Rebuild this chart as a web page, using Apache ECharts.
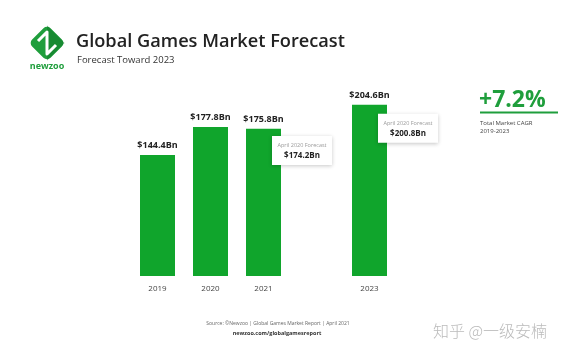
<!DOCTYPE html>
<html>
<head>
<meta charset="utf-8">
<script src="https://cdn.jsdelivr.net/npm/echarts@6/dist/echarts.min.js"></script>
<style>html,body{margin:0;padding:0;background:#fff;}#c{width:573px;height:361px;}</style>
</head>
<body>
<div id="c"></div>
<script>
// Data
var categories = ['2019', '2020', '2021', '', '2023'];
var revenue = [144.4, 177.8, 175.8, null, 204.6];
var april2020Forecast = [null, null, 174.2, null, 200.8];
var forecastLabel = 'April 2020 Forecast';
var cagrText = '+7.2%';
var cagrCaption = ['Total Market CAGR', '2019-2023'];
var titleText = 'Global Games Market Forecast';
var subtitleText = 'Forecast Toward 2023';
var sourceText = 'Source: \u00A9Newzoo | Global Games Market Report | April 2021';
var urlText = 'newzoo.com/globalgamesreport';
var watermark = '\u77E5\u4E4E @\u4E00\u7EA7\u5B89\u6960';

var GREEN = '#10a52c';
var FONT = '"Open Sans", "DejaVu Sans", sans-serif';
var fmt = function (v) { return '$' + v.toFixed(1) + 'Bn'; };

var chart = echarts.init(document.getElementById('c'), null, {renderer: 'canvas'});
chart.setOption({
  backgroundColor: '#fff',
  animation: false,
  grid: {left: 131, right: 177, top: 75, bottom: 85},
  xAxis: {
    type: 'category',
    data: categories,
    axisLine: {show: false},
    axisTick: {show: false},
    axisLabel: {color: '#444', fontSize: 8, margin: 9, fontFamily: FONT}
  },
  yAxis: {type: 'value', min: 0, max: 240, show: false, splitLine: {show: false}},
  series: [
    {
      type: 'bar',
      data: revenue,
      barWidth: 35,
      itemStyle: {color: GREEN},
      label: {
        show: true, position: 'top', distance: 5,
        formatter: function (p) { return fmt(p.value); },
        fontSize: 9, fontWeight: 'bold', color: '#222', fontFamily: FONT
      }
    },
    {
      type: 'bar',
      data: april2020Forecast,
      barWidth: 35,
      barGap: '-100%',
      itemStyle: {color: 'rgba(0,0,0,0)'},
      z: 5,
      label: {
        show: true,
        position: [26, 6],
        formatter: function (p) { return '{a|' + forecastLabel + '}\n{b|' + fmt(p.value) + '}'; },
        backgroundColor: '#fff',
        shadowColor: 'rgba(0,0,0,0.22)',
        shadowBlur: 4,
        shadowOffsetY: 1,
        padding: [5, 6, 4, 6],
        width: 48,
        align: 'left',
        rich: {
          a: {fontSize: 5.5, color: '#9a9a9a', lineHeight: 9, align: 'center', width: 48, fontFamily: FONT},
          b: {fontSize: 8, fontWeight: 'bold', color: '#222', lineHeight: 11, align: 'center', width: 48, fontFamily: FONT}
        }
      }
    }
  ],
  graphic: [
    // Logo
    {type: 'rect', shape: {x: -13, y: -13, width: 26, height: 26, r: 5}, x: 47, y: 43, rotation: Math.PI / 4,
      style: {fill: '#1f9e3c'}},
    {type: 'polygon', shape: {points: [[47, 25.5], [64.5, 43], [47, 60.5]]}, style: {fill: '#137a2a', opacity: 0.55}},
    {type: 'polyline', shape: {points: [[38, 41], [47, 32], [47, 54], [56, 45]]},
      style: {stroke: '#fff', lineWidth: 3, fill: null, lineJoin: 'round'}},
    {type: 'text', x: 47, y: 66.5, style: {text: 'newzoo', fill: '#1f9e3c', font: 'bold 9px ' + FONT, textAlign: 'center', textVerticalAlign: 'middle'}},
    // Title
    {type: 'text', x: 76, y: 42, style: {text: titleText, fill: '#222', font: '600 18.2px ' + FONT, textVerticalAlign: 'middle'}},
    {type: 'text', x: 77, y: 60, style: {text: subtitleText, fill: '#333', font: '9.5px ' + FONT, textVerticalAlign: 'middle'}},
    // CAGR
    {type: 'text', x: 479, y: 100, style: {text: cagrText, fill: '#1f9e3c', font: 'bold 23px ' + FONT, textVerticalAlign: 'middle'}},
    {type: 'rect', shape: {x: 480, y: 111.5, width: 78, height: 2}, style: {fill: '#1f9e3c'}},
    {type: 'text', x: 480, y: 123, style: {text: cagrCaption[0], fill: '#444', font: '6px ' + FONT, textVerticalAlign: 'middle'}},
    {type: 'text', x: 480, y: 131, style: {text: cagrCaption[1], fill: '#444', font: '6px ' + FONT, textVerticalAlign: 'middle'}},
    // Footer
    {type: 'text', x: 278, y: 324, style: {text: sourceText, fill: '#666', font: '5px ' + FONT, textAlign: 'center', textVerticalAlign: 'middle'}},
    {type: 'text', x: 277, y: 333, style: {text: urlText, fill: '#333', font: 'bold 5.5px ' + FONT, textAlign: 'center', textVerticalAlign: 'middle'}},
    // Watermark
    {type: 'text', x: 433, y: 331, style: {text: watermark, fill: '#bbbbbb', font: '300 16px "Noto Sans CJK SC", sans-serif', textVerticalAlign: 'middle'}}
  ]
});
</script>
</body>
</html>
